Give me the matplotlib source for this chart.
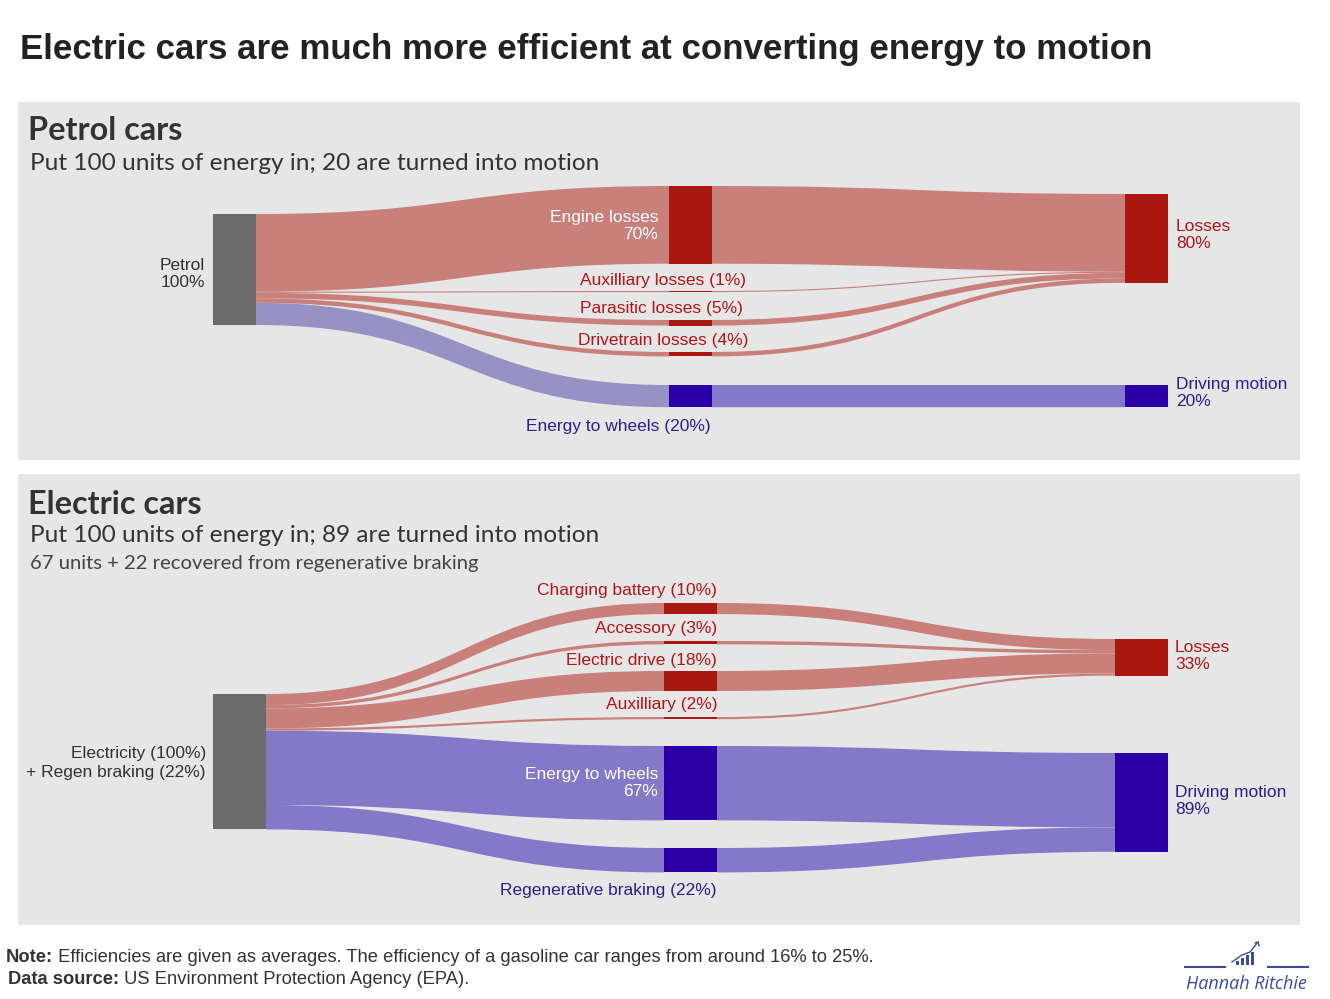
import matplotlib
matplotlib.use("Agg")
import matplotlib.pyplot as plt
from matplotlib.path import Path
from matplotlib.patches import PathPatch, Rectangle

# ---- data ----
petrol_stages = ["Engine losses", "Auxilliary losses", "Parasitic losses", "Drivetrain losses", "Energy to wheels"]
petrol_values = [70, 1, 5, 4, 20]
petrol_kind = ["loss", "loss", "loss", "loss", "motion"]

electric_stages = ["Charging battery", "Accessory", "Electric drive", "Auxilliary", "Energy to wheels", "Regenerative braking"]
electric_values = [10, 3, 18, 2, 67, 22]
electric_kind = ["loss", "loss", "loss", "loss", "motion", "motion"]

# ---- styles ----
BG = "#e6e6e6"
GREY = "#6b6b6b"
LOSS_FLOW = "#c97f7a"
LOSS_NODE = "#a81810"
MOTION_FLOW = "#8479c8"
MOTION_FLOW_PETROL = "#9692c3"
MOTION_NODE = "#2a00a6"
RED_TXT = "#b0161a"
BLUE_TXT = "#2b1f8e"
ARIAL = "Liberation Sans"
LATO = "Lato"
SCALE = 1.11  # pixels per unit of energy

fig = plt.figure(figsize=(13.3, 9.99), dpi=100)
ax = fig.add_axes([0, 0, 1, 1])
ax.set_xlim(0, 1330)
ax.set_ylim(999, 0)
ax.axis("off")


def flow(x0, x1, y0, y1, h, color):
    xm = (x0 + x1) / 2
    verts = [(x0, y0), (xm, y0), (xm, y1), (x1, y1),
             (x1, y1 + h), (xm, y1 + h), (xm, y0 + h), (x0, y0 + h), (x0, y0)]
    codes = [Path.MOVETO, Path.CURVE4, Path.CURVE4, Path.CURVE4,
             Path.LINETO, Path.CURVE4, Path.CURVE4, Path.CURVE4, Path.CLOSEPOLY]
    ax.add_patch(PathPatch(Path(verts, codes), facecolor=color, edgecolor="none", lw=0))


def node(x0, x1, y, h, color):
    ax.add_patch(Rectangle((x0, y), x1 - x0, h, facecolor=color, edgecolor="none", lw=0))


def sankey(values, kinds, src_x, mid_x, dst_x, src_top, mid_tops, dst_tops, left_motion_color):
    # source -> middle
    y = src_top
    for v, k, mt in zip(values, kinds, mid_tops):
        h = v * SCALE
        c = LOSS_FLOW if k == "loss" else left_motion_color
        flow(src_x[1], mid_x[0], y, mt, h, c)
        y += h
    node(src_x[0], src_x[1], src_top, sum(values) * SCALE, GREY)
    # middle -> right
    stack = dict(dst_tops)
    for v, k, mt in zip(values, kinds, mid_tops):
        h = v * SCALE
        c = LOSS_FLOW if k == "loss" else MOTION_FLOW
        flow(mid_x[1], dst_x[0], mt, stack[k], h, c)
        stack[k] += h
        node(mid_x[0], mid_x[1], mt, h, LOSS_NODE if k == "loss" else MOTION_NODE)
    for k, top in dst_tops.items():
        tot = sum(v for v, kk in zip(values, kinds) if kk == k)
        node(dst_x[0], dst_x[1], top, tot * SCALE, LOSS_NODE if k == "loss" else MOTION_NODE)


# ---- panels ----
ax.add_patch(Rectangle((18, 102), 1282, 358, facecolor=BG, edgecolor="none"))
ax.add_patch(Rectangle((18, 474), 1282, 451, facecolor=BG, edgecolor="none"))

ax.text(20, 49, "Electric cars are much more efficient at converting energy to motion",
        fontsize=25.1, fontweight="bold", family=ARIAL, color="#222222", va="center", ha="left")

# petrol panel
ax.text(28, 131, "Petrol cars", fontsize=23.3, fontweight="bold", family=LATO, color="#333333", va="center")
ax.text(30, 164, "Put 100 units of energy in; 20 are turned into motion", fontsize=17.6,
        family=LATO, color="#333333", va="center")

sankey(petrol_values, petrol_kind, (213, 256), (669, 712), (1125, 1168), 214,
       [186, 291, 320, 352, 385], {"loss": 194, "motion": 385}, MOTION_FLOW_PETROL)

p_total = sum(petrol_values)
p_loss = sum(v for v, k in zip(petrol_values, petrol_kind) if k == "loss")
p_motion = p_total - p_loss

lab = dict(fontsize=12.5, family=ARIAL, va="center")
ax.text(205, 274, f"Petrol\n{p_total}%", ha="right", color="#333333", linespacing=1.2, **lab)
ax.text(658, 226, f"{petrol_stages[0]}\n{petrol_values[0]}%", ha="right", color="white", linespacing=1.2, **lab)
ax.text(663, 281, f"{petrol_stages[1]} ({petrol_values[1]}%)", ha="center", color=RED_TXT, **lab)
ax.text(661, 308, f"{petrol_stages[2]} ({petrol_values[2]}%)", ha="center", color=RED_TXT, **lab)
ax.text(663, 340, f"{petrol_stages[3]} ({petrol_values[3]}%)", ha="center", color=RED_TXT, **lab)
ax.text(618, 427, f"{petrol_stages[4]} ({petrol_values[4]}%)", ha="center", color=BLUE_TXT, **lab)
ax.text(1176, 235, f"Losses\n{p_loss}%", ha="left", color=RED_TXT, linespacing=1.2, **lab)
ax.text(1176, 393, f"Driving motion\n{p_motion}%", ha="left", color=BLUE_TXT, linespacing=1.2, **lab)

# electric panel
ax.text(28, 504, "Electric cars", fontsize=23.3, fontweight="bold", family=LATO, color="#333333", va="center")
ax.text(30, 536, "Put 100 units of energy in; 89 are turned into motion", fontsize=17.6,
        family=LATO, color="#333333", va="center")
ax.text(30, 563, "67 units + 22 recovered from regenerative braking", fontsize=14.6,
        family=LATO, color="#444444", va="center")

sankey(electric_values, electric_kind, (213, 266), (664, 717), (1115, 1168), 694,
       [603, 641, 671, 717, 746, 848], {"loss": 639, "motion": 753}, MOTION_FLOW)

e_total = sum(electric_values)
e_loss = sum(v for v, k in zip(electric_values, electric_kind) if k == "loss")
e_motion = e_total - e_loss
e_regen = electric_values[-1]

ax.text(206, 763, f"Electricity ({e_total - e_regen}%)\n+ Regen braking ({e_regen}%)", ha="right",
        color="#333333", linespacing=1.4, **lab)
for name, v, yy in zip(electric_stages[:4], electric_values[:4], [590, 628, 660, 705]):
    ax.text(717, yy, f"{name} ({v}%)", ha="right", color=RED_TXT, **lab)
ax.text(658, 783, f"{electric_stages[4]}\n{electric_values[4]}%", ha="right", color="white",
        linespacing=1.2, **lab)
ax.text(716, 890, f"{electric_stages[5]} ({electric_values[5]}%)", ha="right", color=BLUE_TXT, **lab)
ax.text(1175, 656, f"Losses\n{e_loss}%", ha="left", color=RED_TXT, linespacing=1.2, **lab)
ax.text(1175, 801, f"Driving motion\n{e_motion}%", ha="left", color=BLUE_TXT, linespacing=1.2, **lab)

# ---- footer ----
foot = dict(fontsize=13.2, family=ARIAL, color="#333333")
t1 = ax.text(6, 958, "Note:", fontweight="bold", va="center", **foot)
ax.annotate(" Efficiencies are given as averages. The efficiency of a gasoline car ranges from around 16% to 25%.",
            xy=(1, 0), xycoords=t1, va="bottom", ha="left", **foot)
t2 = ax.text(8, 980, "Data source:", fontweight="bold", va="center", **foot)
ax.annotate(" US Environment Protection Agency (EPA).", xy=(1, 0), xycoords=t2,
            va="bottom", ha="left", **foot)

# logo
LOGO = "#3b4a9c"
ax.plot([1185, 1225], [967, 967], color=LOGO, lw=1.5)
ax.plot([1268, 1308], [967, 967], color=LOGO, lw=1.5)
for i, bh in enumerate([4, 7, 10, 13]):
    ax.add_patch(Rectangle((1236 + i * 5, 965 - bh), 3, bh, facecolor=LOGO, edgecolor="none"))
ax.plot([1232, 1242, 1250, 1258], [962, 955, 952, 942], color=LOGO, lw=1)
ax.plot([1255, 1258, 1259], [943, 942, 946], color=LOGO, lw=1)
ax.text(1246, 984, "Hannah Ritchie", fontsize=13, style="italic", family="Open Sans",
        color=LOGO, ha="center", va="center")

fig.savefig("out.png", dpi=100)
